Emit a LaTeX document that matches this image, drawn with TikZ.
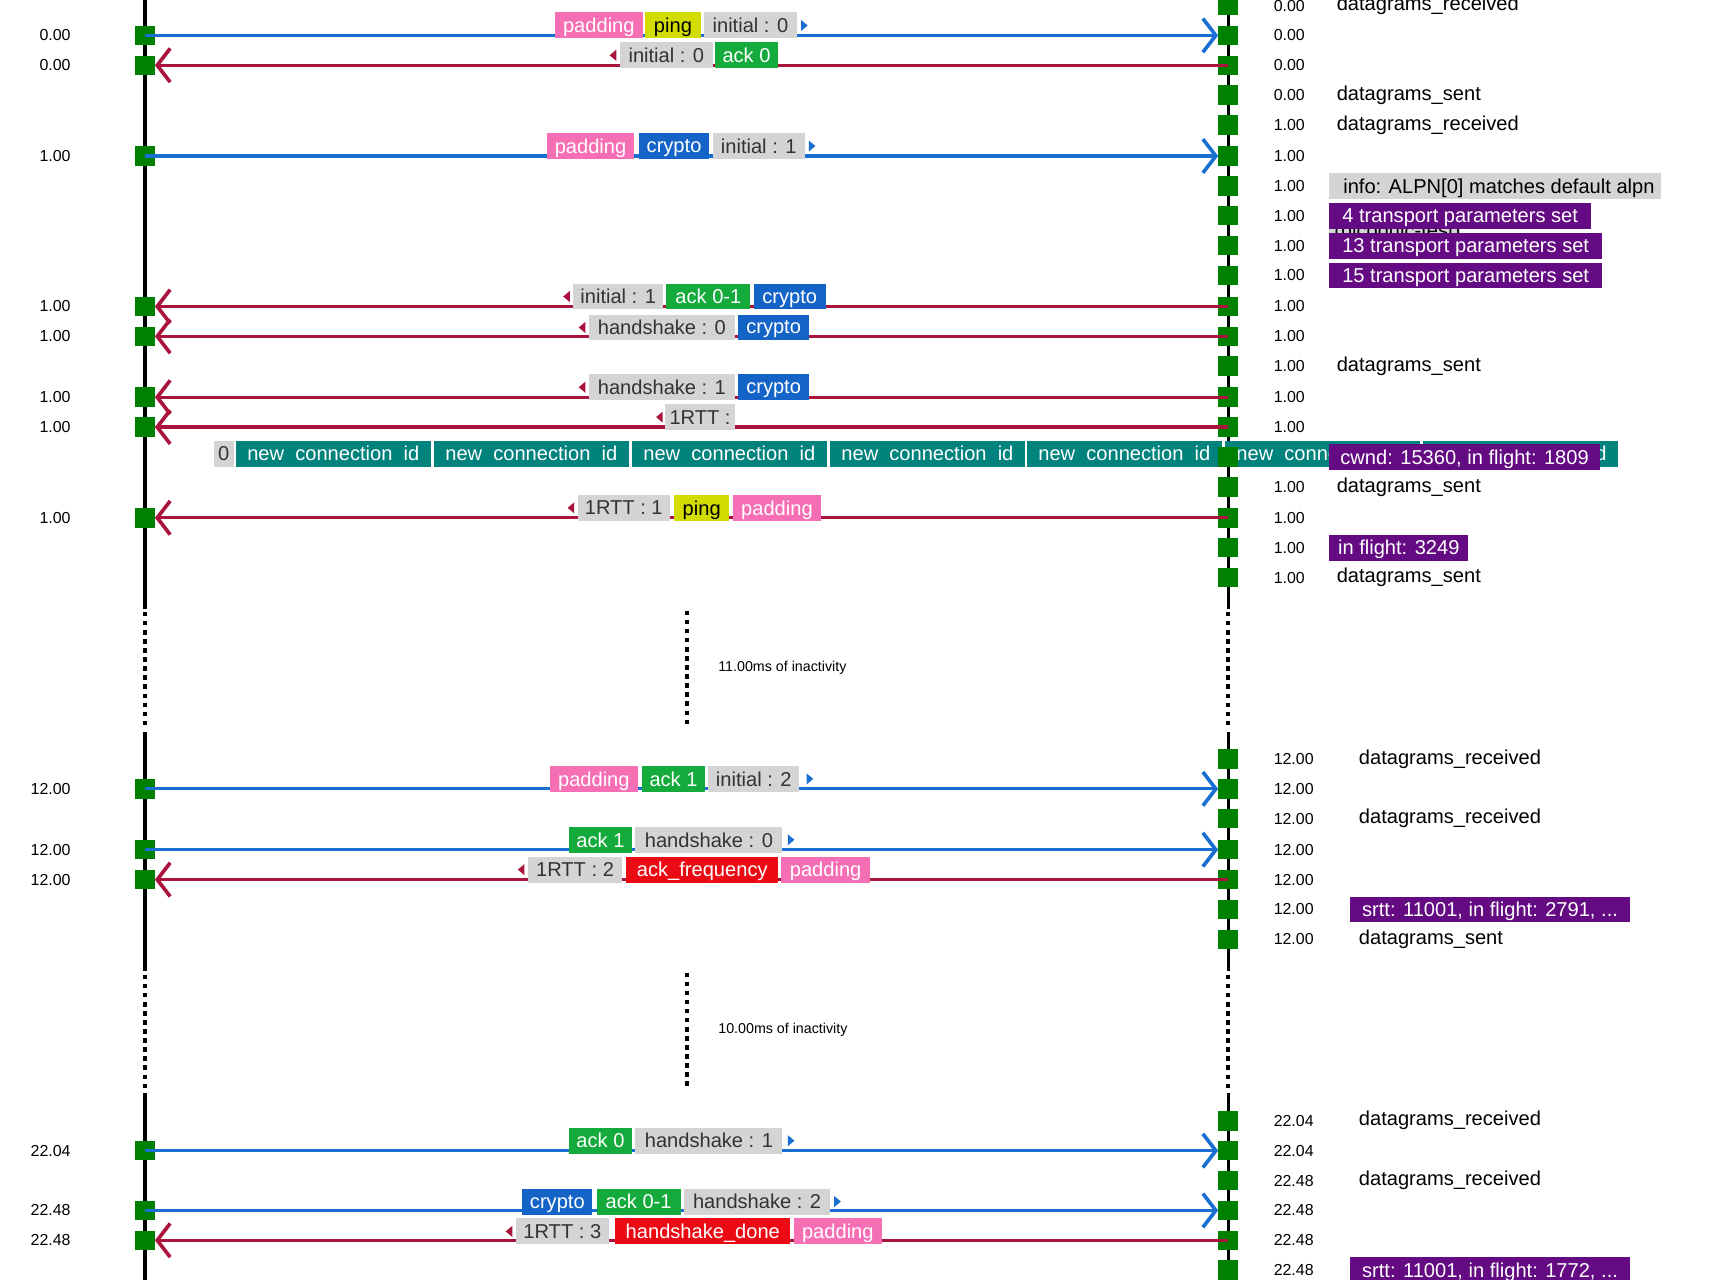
\documentclass[tikz,border=0pt]{standalone}
\usepackage{fontspec}
\setmainfont{Liberation Sans}
\usetikzlibrary{arrows.meta}
\definecolor{sq}{RGB}{0,128,0}
\definecolor{cblue}{RGB}{25,110,210}
\definecolor{cred}{RGB}{170,20,60}
\definecolor{pk}{RGB}{246,110,180}
\definecolor{yl}{RGB}{210,220,0}
\definecolor{gr}{RGB}{212,212,212}
\definecolor{gn}{RGB}{20,170,60}
\definecolor{bl}{RGB}{20,100,200}
\definecolor{rd}{RGB}{235,10,20}
\definecolor{tl}{RGB}{0,130,125}
\definecolor{pu}{RGB}{100,10,130}
\newcounter{nn}
\tikzset{
 sqr/.style={fill=sq,minimum size=15,inner sep=0,draw=none},
 tm/.style={font=\fontsize{12.3}{13}\selectfont,anchor=west,inner sep=0},
 ev/.style={font=\fontsize{15.5}{16}\selectfont,anchor=west,inner sep=0},
 box/.style={font=\fontsize{15.5}{16}\selectfont,anchor=west,inner sep=0,minimum height=20,text depth=0pt},
 barrow/.style={cblue,line width=2.5,-{Straight Barb[length=10pt,width=26pt,line width=2.8]}},
 rarrow/.style={cred,line width=2.5,-{Straight Barb[length=10pt,width=26pt,line width=2.8]}},
 axis/.style={line width=2.5},
 dots/.style={line width=3.5,dash pattern=on 3.5 off 3.5},
}
\newcommand{\fr}[6]{\stepcounter{nn}\node[box,fill=#4,text=#5,minimum width={(#2-#1)*0.03cm}] (f\thenn) at (#1,#3) {#6};}
\newcommand{\tri}[3]{\fill[#3] (#1,#2) -- ++(-6,-5) -- ++(0,10) -- cycle;}
\newcommand{\tril}[3]{\fill[#3] (#1,#2) -- ++(6,-5) -- ++(0,10) -- cycle;}
\begin{document}
\begin{tikzpicture}[x=0.03cm,y=-0.03cm]
\useasboundingbox (0,0) rectangle (1560,1156);
\draw[axis] (131,0) -- (131,550) (131,662) -- (131,878) (131,988) -- (131,1160);
\draw[axis] (1110,0) -- (1110,550) (1110,662) -- (1110,878) (1110,988) -- (1110,1160);
\draw[dots] (131,553) -- (131,658) (131,881) -- (131,984);
\draw[dots] (1110,553) -- (1110,658) (1110,881) -- (1110,984);
\draw[dots] (621,552) -- (621,656) (621,879) -- (621,983);
\node[font=\fontsize{11}{11}\selectfont,anchor=west,inner sep=0] (in1) at (649,604) {11.00ms of inactivity};
\node[font=\fontsize{11}{11}\selectfont,anchor=west,inner sep=0] (in2) at (649,931) {10.00ms of inactivity};
\foreach \y in {5,32,59,86,113,141,168,195,222,249,277,304,331,359,386,413,440,468,495,522,686,713,740,768,795,822,849,1013,1040,1067,1094,1121,1148}
  {\node[sqr] (R\y) at (1110,\y) {};}
\foreach \y in {32,59,141,277,304,359,386,468,713,768,795,1040,1094,1121}
  {\node[sqr] (L\y) at (131,\y) {};}
\foreach \y/\t in {32/0.00,59/0.00,141/1.00,277/1.00,304/1.00,359/1.00,386/1.00,468/1.00,713/12.00,768/12.00,795/12.00,1040/22.04,1094/22.48,1121/22.48}
  {\node[tm,anchor=east] (lt\y) at (64,\y) {\t};}
\foreach \y/\t in {5/0.00,32/0.00,59/0.00,86/0.00,113/1.00,141/1.00,168/1.00,195/1.00,222/1.00,249/1.00,277/1.00,304/1.00,331/1.00,359/1.00,386/1.00,413/1.00,440/1.00,468/1.00,495/1.00,522/1.00,686/12.00,713/12.00,740/12.00,768/12.00,795/12.00,822/12.00,849/12.00,1013/22.04,1040/22.04,1067/22.48,1094/22.48,1121/22.48,1148/22.48}
  {\node[tm] (rt\y) at (1151,\y) {\t};}
\foreach \y/\t in {5/datagrams\_received,86/datagrams\_sent,113/datagrams\_received,331/datagrams\_sent,440/datagrams\_sent,522/datagrams\_sent}
  {\node[ev] (ev\y) at (1208,\y) {\t};}
\foreach \y/\t in {686/datagrams\_received,740/datagrams\_received,849/datagrams\_sent,1013/datagrams\_received,1067/datagrams\_received}
  {\node[ev] (ev\y) at (1228,\y) {\t};}
\fr{1201}{1501}{168}{gr}{black}{\hspace*{6pt}info: ALPN[0] matches default alpn\hfill}
\fr{1201}{1318}{208}{gr}{black}{\hspace*{4pt}(picoquic-test)}
\fr{1201}{1438}{195}{pu}{white}{4 transport parameters set}
\fr{1201}{1448}{222}{pu}{white}{13 transport parameters set}
\fr{1201}{1448}{249}{pu}{white}{15 transport parameters set}
\fr{1201}{1327}{495}{pu}{white}{in flight: 3249}
\fr{1220}{1473}{822}{pu}{white}{srtt: 11001, in flight: 2791, ...}
\fr{1220}{1473}{1148}{pu}{white}{srtt: 11001, in flight: 1772, ...}
\foreach \y in {32,141,713,768,1040,1094}
  {\draw[barrow] (L\y.center) -- (R\y.west);}
\foreach \y in {59,277,304,359,386,468,795,1121}
  {\draw[rarrow] (R\y.center) -- (L\y.east);}
\fr{501}{581}{23}{pk}{white}{padding}\fr{583}{633}{23}{yl}{black}{ping}\fr{636}{720}{23}{gr}{black!80}{initial : 0}\tri{730}{23}{cblue}
\tril{551}{50}{cred}\fr{560}{644}{50}{gr}{black!80}{initial : 0}\fr{646}{703}{50}{gn}{white}{ack 0}
\fr{494}{573}{132}{pk}{white}{padding}\fr{577}{641}{132}{bl}{white}{crypto}\fr{644}{727}{132}{gr}{black!80}{initial : 1}\tri{737}{132}{cblue}
\tril{509}{268}{cred}\fr{518}{599}{268}{gr}{black!80}{initial : 1}\fr{602}{678}{268}{gn}{white}{ack 0-1}\fr{681}{746}{268}{bl}{white}{crypto}
\tril{523}{296}{cred}\fr{532}{664}{296}{gr}{black!80}{handshake : 0}\fr{667}{731}{296}{bl}{white}{crypto}
\tril{523}{350}{cred}\fr{532}{664}{350}{gr}{black!80}{handshake : 1}\fr{667}{731}{350}{bl}{white}{crypto}
\tril{593}{377}{cred}\fr{601}{664}{377}{gr}{black!80}{1RTT :}
\fr{193}{211}{410}{gr}{black!80}{0}
\foreach \a in {213,392,571,750,928,1107,1286}
  {\fr{\a}{\a+176}{410}{tl}{white}{new~~connection~~id}}
\node[sqr] (R413b) at (1110,413) {};
\fr{1201}{1446}{413}{pu}{white}{cwnd: 15360, in flight: 1809}
\tril{513}{459}{cred}\fr{522}{605}{459}{gr}{black!80}{1RTT : 1}\fr{609}{659}{459}{yl}{black}{ping}\fr{662}{742}{459}{pk}{white}{padding}
\fr{497}{576}{704}{pk}{white}{padding}\fr{580}{637}{704}{gn}{white}{ack 1}\fr{640}{722}{704}{gr}{black!80}{initial : 2}\tri{735}{704}{cblue}
\fr{514}{571}{759}{gn}{white}{ack 1}\fr{574}{707}{759}{gr}{black!80}{handshake : 0}\tri{718}{759}{cblue}
\tril{468}{786}{cred}\fr{477}{562}{786}{gr}{black!80}{1RTT : 2}\fr{566}{703}{786}{rd}{white}{ack\_frequency}\fr{706}{786}{786}{pk}{white}{padding}
\fr{514}{571}{1031}{gn}{white}{ack 0}\fr{574}{707}{1031}{gr}{black!80}{handshake : 1}\tri{718}{1031}{cblue}
\fr{472}{535}{1086}{bl}{white}{crypto}\fr{539}{615}{1086}{gn}{white}{ack 0-1}\fr{618}{750}{1086}{gr}{black!80}{handshake : 2}\tri{760}{1086}{cblue}
\tril{457}{1113}{cred}\fr{466}{550}{1113}{gr}{black!80}{1RTT : 3}\fr{556}{714}{1113}{rd}{white}{handshake\_done}\fr{717}{797}{1113}{pk}{white}{padding}
\end{tikzpicture}
\end{document}
